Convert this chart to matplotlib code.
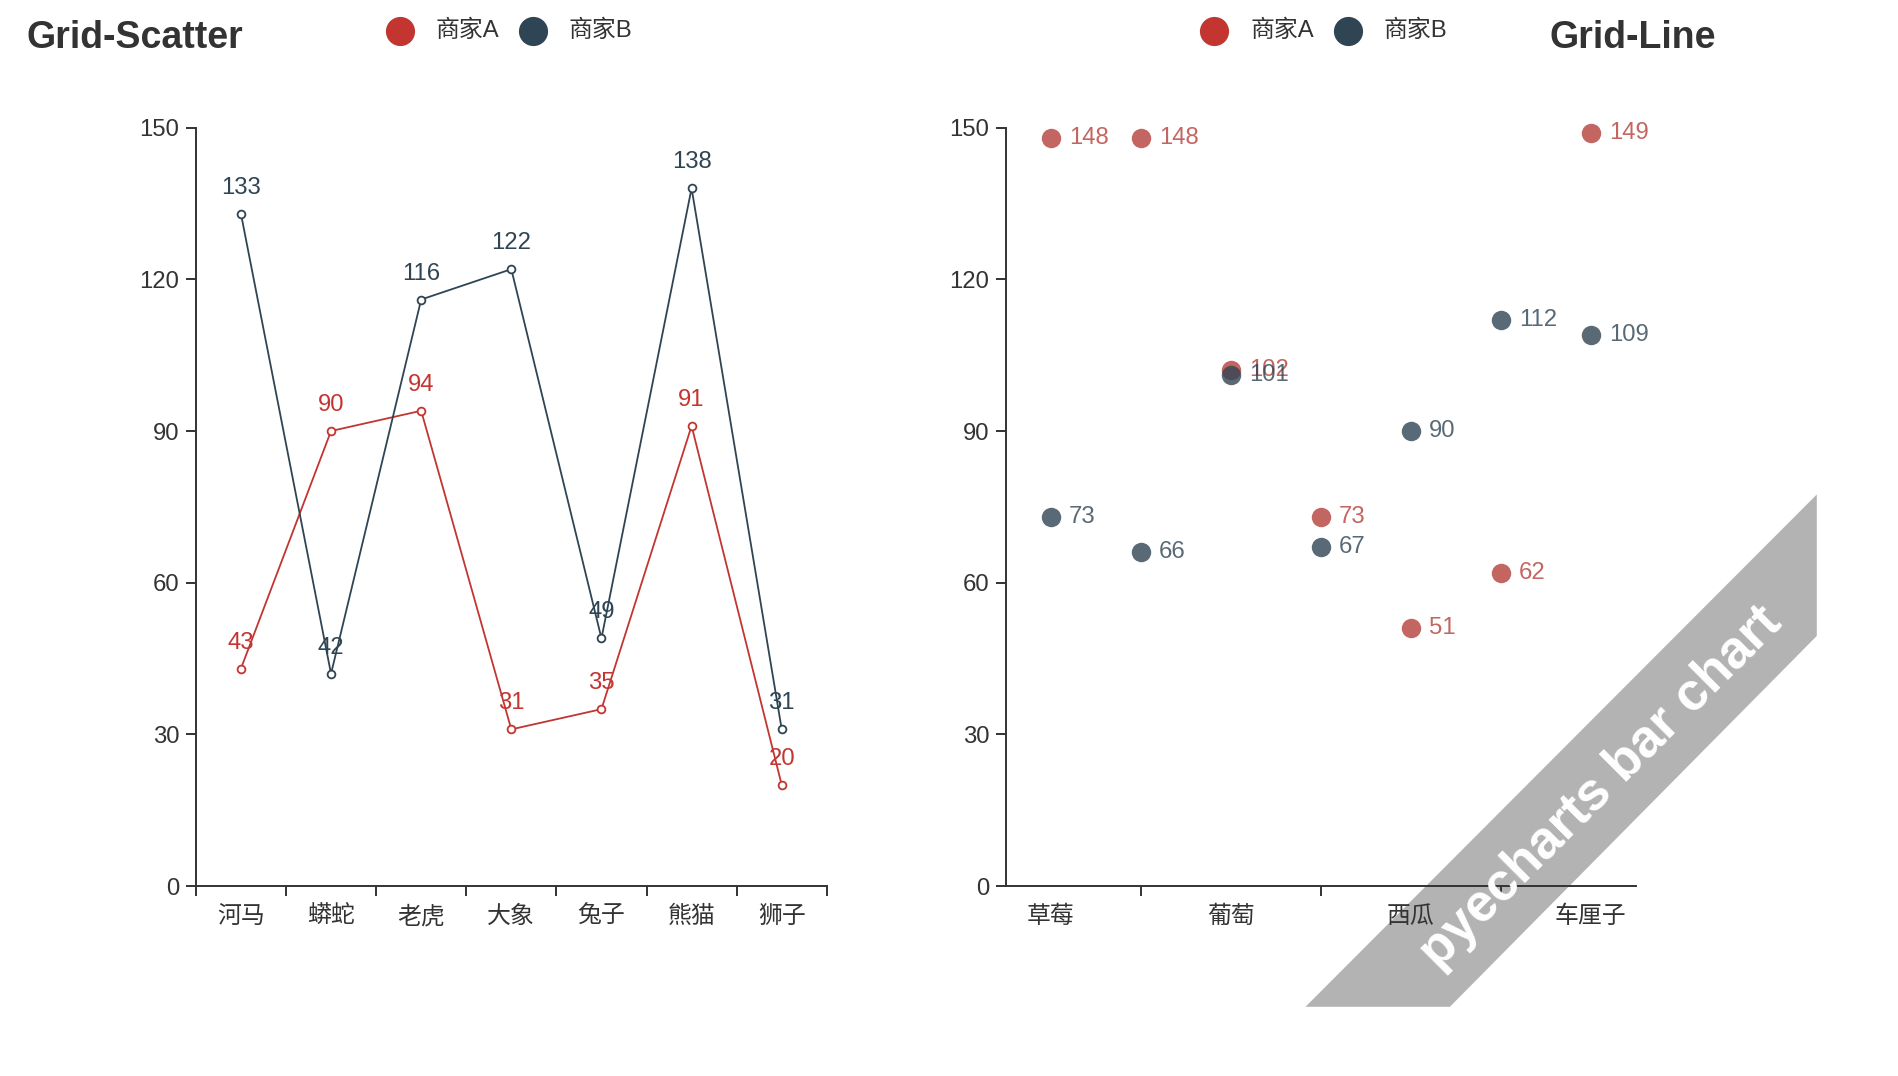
import matplotlib.pyplot as plt
from matplotlib.lines import Line2D
from matplotlib.patches import Polygon

plt.rcParams['font.family'] = ['Liberation Sans', 'Noto Sans CJK SC', 'DejaVu Sans']

# data
animals = ["河马", "蟒蛇", "老虎", "大象", "兔子", "熊猫", "狮子"]
line_a = [43, 90, 94, 31, 35, 91, 20]
line_b = [133, 42, 116, 122, 49, 138, 31]

fruits = ["草莓", "芒果", "葡萄", "雪梨", "西瓜", "柠檬", "车厘子"]
scatter_a = [148, 148, 102, 73, 51, 62, 149]
scatter_b = [73, 66, 101, 67, 90, 112, 109]

series_names = ["商家A", "商家B"]
colors = ["#c23531", "#2f4554"]
scatter_colors = ["#b5403a", "#2f4554"]
y_ticks = [0, 30, 60, 90, 120, 150]

W, H = 1898, 1076
S = 0.989  # correction on my pixel estimates
fig = plt.figure(figsize=(W / 100, H / 100), dpi=100)


def box(x0, y0, x1, y1):
    # pixel box (top-left origin) -> figure fraction rect
    x0, y0, x1, y1 = x0 * S, y0 * S, x1 * S, y1 * S
    return [x0 / W, 1 - y1 / H, (x1 - x0) / W, (y1 - y0) / H]


def fp(x, y):
    return (x * S / W, 1 - y * S / H)


axis_color = "#333333"
tick_fs = 17.2


def style_axes(ax):
    ax.patch.set_alpha(0)
    for s in ["top", "right"]:
        ax.spines[s].set_visible(False)
    for s in ["left", "bottom"]:
        ax.spines[s].set_color(axis_color)
        ax.spines[s].set_linewidth(1.4)
    ax.set_ylim(0, 150)
    ax.set_yticks(y_ticks)
    ax.tick_params(axis="y", length=7, width=1.4, color=axis_color,
                   labelcolor=axis_color, labelsize=tick_fs, pad=5)
    ax.set_xlim(-0.5, 6.5)


# watermark band (behind the axes)
band = Polygon([fp(1320, 1018), fp(1837, 500), fp(1837, 643), fp(1466, 1018)],
               closed=True, transform=fig.transFigure, facecolor="#b3b3b3",
               edgecolor="none", zorder=-1)
fig.add_artist(band)

# left: line chart
ax1 = fig.add_axes(box(198, 129, 836, 896))
style_axes(ax1)
x = list(range(len(animals)))
for vals, c in zip([line_a, line_b], colors):
    ax1.plot(x, vals, color=c, lw=1.3, marker="o", ms=5.6, mfc="white",
             mec=c, mew=1.3, zorder=3, clip_on=False)
    for xi, v in zip(x, vals):
        ax1.annotate(str(v), (xi, v), xytext=(0, 26), textcoords="offset pixels",
                     ha="center", va="center", color=c, fontsize=tick_fs, zorder=4)
ax1.set_xticks(x)
ax1.set_xticklabels(animals)
ax1.set_xticks([i - 0.5 for i in range(len(animals) + 1)], minor=True)
ax1.tick_params(axis="x", which="major", length=0, pad=14,
                labelsize=tick_fs, labelcolor=axis_color)
ax1.tick_params(axis="x", which="minor", length=7, width=1.4, color=axis_color)

# right: scatter chart
ax2 = fig.add_axes(box(1017, 129, 1654, 896))
style_axes(ax2)
x = list(range(len(fruits)))
for vals, c in zip([scatter_a, scatter_b], scatter_colors):
    ax2.plot(x, vals, ls="", marker="o", ms=14, color=c, mec="none",
             alpha=0.8, zorder=3, clip_on=False)
    for xi, v in zip(x, vals):
        ax2.annotate(str(v), (xi, v), xytext=(18, 0), textcoords="offset pixels",
                     ha="left", va="center", color=c, alpha=0.8,
                     fontsize=tick_fs, zorder=4)
ax2.set_xticks(x[::2])
ax2.set_xticklabels(fruits[::2])
ax2.set_xticks(x[1::2], minor=True)
ax2.tick_params(axis="x", which="major", length=0, pad=14,
                labelsize=tick_fs, labelcolor=axis_color)
ax2.tick_params(axis="x", which="minor", length=7, width=1.4, color=axis_color)

# titles
fig.text(*fp(27, 38), "Grid-Scatter", fontsize=27, fontweight="bold",
         color=axis_color, ha="left", va="center")
fig.text(*fp(1567, 38), "Grid-Line", fontsize=27, fontweight="bold",
         color=axis_color, ha="left", va="center")


# legends
def legend(x0):
    xs = [x0, x0 + 135]
    for xc, name, c in zip(xs, series_names, colors):
        fig.add_artist(Line2D([xc * S / W], [1 - 31 * S / H], marker="o", ms=21,
                              color=c, mec="none", ls="",
                              transform=fig.transFigure))
        fig.text(*fp(xc + 36, 31), name, fontsize=tick_fs, color=axis_color,
                 ha="left", va="center")


legend(404)
legend(1228)

fig.text(*fp(1619, 796), "pyecharts bar chart", rotation=45, fontsize=38,
         fontweight="bold", color="white", ha="center", va="center",
         rotation_mode="anchor", zorder=11)

fig.savefig("out.png", dpi=100, facecolor="white")
